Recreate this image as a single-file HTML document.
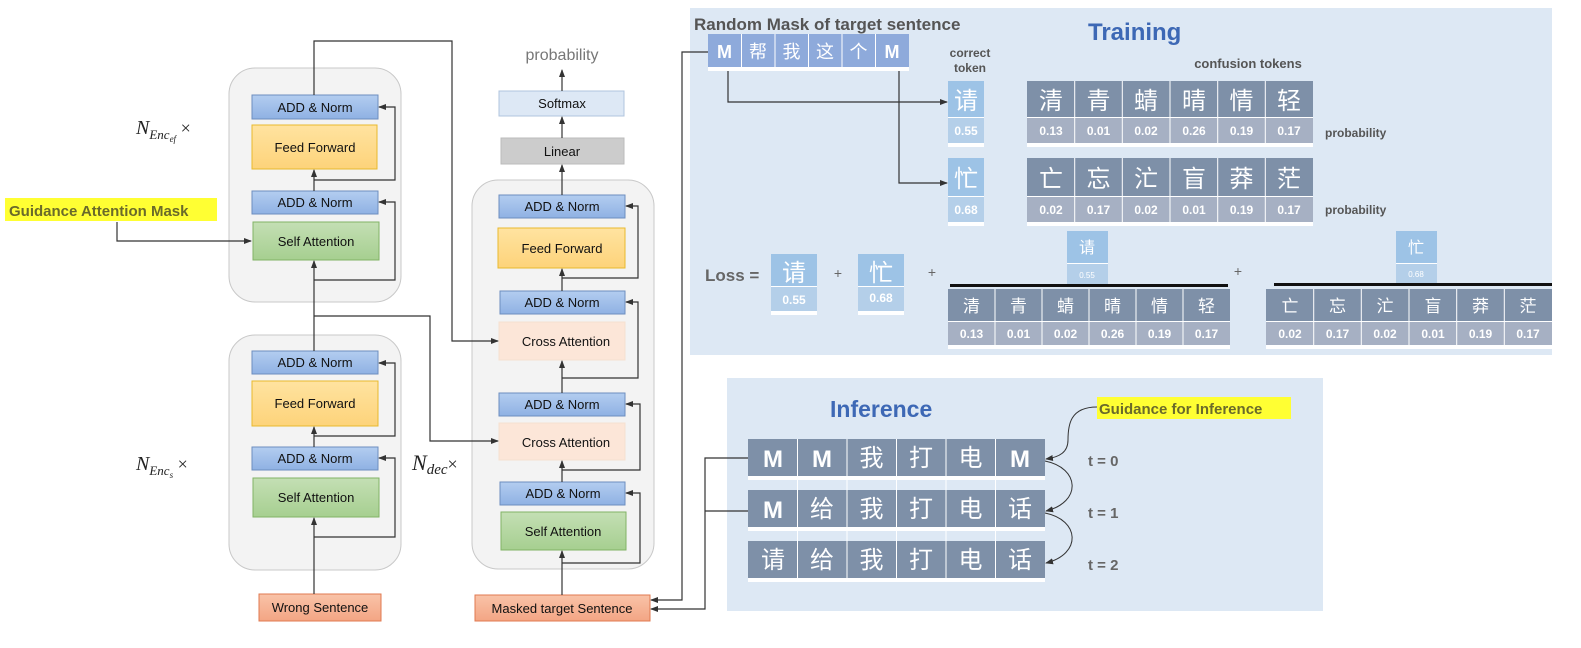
<!DOCTYPE html>
<html><head><meta charset="utf-8"><style>
body{margin:0;background:#fff;}
svg{display:block;font-family:"Liberation Sans","Noto Sans CJK SC",sans-serif;}
.bx{font-size:13px;fill:#111;text-anchor:middle;}
.cj{font-family:"Noto Sans CJK SC",sans-serif;fill:#fff;text-anchor:middle;}
.pw{font-size:12px;font-weight:bold;fill:#fff;text-anchor:middle;}
</style></head><body>
<svg width="1581" height="648" viewBox="0 0 1581 648">
<defs>
<marker id="a" markerWidth="8" markerHeight="8" refX="7" refY="4" orient="auto" markerUnits="userSpaceOnUse"><path d="M0,1 L8,4 L0,7 z" fill="#333"/></marker>
<linearGradient id="bl" x1="0" y1="0" x2="0" y2="1"><stop offset="0" stop-color="#b3cdf0"/><stop offset="1" stop-color="#8fb1e3"/></linearGradient>
<linearGradient id="yl" x1="0" y1="0" x2="0" y2="1"><stop offset="0" stop-color="#ffe3a0"/><stop offset="1" stop-color="#fdd37a"/></linearGradient>
<linearGradient id="gr" x1="0" y1="0" x2="0" y2="1"><stop offset="0" stop-color="#c4dfb4"/><stop offset="1" stop-color="#a6cf90"/></linearGradient>
<linearGradient id="or" x1="0" y1="0" x2="0" y2="1"><stop offset="0" stop-color="#f9c3a8"/><stop offset="1" stop-color="#f3a584"/></linearGradient>
</defs>

<rect x="690" y="8" width="862" height="347" fill="#dde8f4"/>
<rect x="727" y="378" width="596" height="233" fill="#dde8f4"/>

<rect x="229" y="68" width="172" height="234" rx="26" fill="#f3f3f3" stroke="#c8c8c8"/>
<rect x="229" y="335" width="172" height="235" rx="26" fill="#f3f3f3" stroke="#c8c8c8"/>
<rect x="472" y="180" width="182" height="389" rx="26" fill="#f3f3f3" stroke="#c8c8c8"/>

<g stroke-width="1">
<rect x="252" y="95" width="126" height="24" fill="url(#bl)" stroke="#6c8ebf"/>
<rect x="252" y="125" width="125" height="44" fill="url(#yl)" stroke="#e8b92d"/>
<rect x="252" y="191" width="126" height="23" fill="url(#bl)" stroke="#6c8ebf"/>
<rect x="253" y="222" width="126" height="38" fill="url(#gr)" stroke="#82b366"/>
<rect x="252" y="351" width="126" height="23" fill="url(#bl)" stroke="#6c8ebf"/>
<rect x="252" y="381" width="126" height="45" fill="url(#yl)" stroke="#e8b92d"/>
<rect x="252" y="447" width="126" height="23" fill="url(#bl)" stroke="#6c8ebf"/>
<rect x="253" y="478" width="126" height="39" fill="url(#gr)" stroke="#82b366"/>
<rect x="259" y="594" width="122" height="27" fill="url(#or)" stroke="#e07a50"/>
<rect x="499" y="91" width="125" height="25" fill="#dde8f5" stroke="#b0c4de"/>
<rect x="501" y="138" width="123" height="26" fill="#cccccc" stroke="#bbb"/>
<rect x="499" y="195" width="126" height="23" fill="url(#bl)" stroke="#6c8ebf"/>
<rect x="498" y="228" width="127" height="40" fill="url(#yl)" stroke="#e8b92d"/>
<rect x="500" y="291" width="125" height="23" fill="url(#bl)" stroke="#6c8ebf"/>
<rect x="499" y="322" width="126" height="38" fill="#fce6d8" stroke="#f5e0d0"/>
<rect x="499" y="393" width="126" height="23" fill="url(#bl)" stroke="#6c8ebf"/>
<rect x="499" y="423" width="126" height="37" fill="#fce6d8" stroke="#f5e0d0"/>
<rect x="500" y="482" width="125" height="23" fill="url(#bl)" stroke="#6c8ebf"/>
<rect x="501" y="512" width="125" height="38" fill="url(#gr)" stroke="#82b366"/>
<rect x="475" y="595" width="175" height="26" fill="url(#or)" stroke="#e07a50"/>
</g>

<g class="bx">
<text x="315" y="112">ADD &amp; Norm</text>
<text x="315" y="152">Feed Forward</text>
<text x="315" y="207">ADD &amp; Norm</text>
<text x="316" y="246">Self Attention</text>
<text x="315" y="367">ADD &amp; Norm</text>
<text x="315" y="408">Feed Forward</text>
<text x="315" y="463">ADD &amp; Norm</text>
<text x="316" y="502">Self Attention</text>
<text x="320" y="612">Wrong Sentence</text>
<text x="562" y="108">Softmax</text>
<text x="562" y="156">Linear</text>
<text x="562" y="211">ADD &amp; Norm</text>
<text x="562" y="253">Feed Forward</text>
<text x="562" y="307">ADD &amp; Norm</text>
<text x="566" y="346">Cross Attention</text>
<text x="562" y="409">ADD &amp; Norm</text>
<text x="566" y="447">Cross Attention</text>
<text x="563" y="498">ADD &amp; Norm</text>
<text x="563" y="536">Self Attention</text>
<text x="562" y="613">Masked target Sentence</text>
</g>
<text x="562" y="60" font-size="16" fill="#777" text-anchor="middle">probability</text>

<g font-family="Liberation Serif,serif" font-style="italic" fill="#222">
<text x="136" y="134" font-size="20">N<tspan font-size="13" dy="5">Enc</tspan><tspan font-size="9" dy="3">ef</tspan><tspan font-style="normal" font-size="18" dy="-8"> ×</tspan></text>
<text x="136" y="470" font-size="20">N<tspan font-size="13" dy="5">Enc</tspan><tspan font-size="9" dy="3">s</tspan><tspan font-style="normal" font-size="18" dy="-8"> ×</tspan></text>
<text x="412" y="470" font-size="22">N<tspan font-size="15" dy="4">dec</tspan><tspan font-style="normal" font-size="18" dy="-4">×</tspan></text>
</g>

<rect x="5" y="198" width="212" height="23" fill="#ffff33"/>
<text x="9" y="216" font-size="15" font-weight="bold" fill="#6a6a2a">Guidance Attention Mask</text>

<g fill="none" stroke="#333" stroke-width="1.2">
<path d="M117,222 V241 H251" marker-end="url(#a)"/>
<path d="M314,594 V518" marker-end="url(#a)"/>
<path d="M314,537 H395 V458 H379" marker-end="url(#a)"/>
<path d="M314,447 V427" marker-end="url(#a)"/>
<path d="M314,436 H395 V363 H379" marker-end="url(#a)"/>
<path d="M314,351 V261" marker-end="url(#a)"/>
<path d="M314,280 H395 V202 H379" marker-end="url(#a)"/>
<path d="M314,191 V170" marker-end="url(#a)"/>
<path d="M314,180 H395 V107 H379" marker-end="url(#a)"/>
<path d="M314,95 V41 H452 V341 H498" marker-end="url(#a)"/>
<path d="M314,316 H430 V441 H498" marker-end="url(#a)"/>
<path d="M562,595 V551" marker-end="url(#a)"/>
<path d="M562,563 H640 V493 H626" marker-end="url(#a)"/>
<path d="M562,482 V461" marker-end="url(#a)"/>
<path d="M562,470 H640 V404 H626" marker-end="url(#a)"/>
<path d="M562,393 V361" marker-end="url(#a)"/>
<path d="M562,378 H638 V302 H626" marker-end="url(#a)"/>
<path d="M562,291 V269" marker-end="url(#a)"/>
<path d="M562,278 H638 V206 H626" marker-end="url(#a)"/>
<path d="M562,195 V165" marker-end="url(#a)"/>
<path d="M562,138 V117" marker-end="url(#a)"/>
<path d="M562,91 V70" marker-end="url(#a)"/>
<path d="M708,52 H682 V600 H651" marker-end="url(#a)"/>
<path d="M748,458 H705 V609 H651" marker-end="url(#a)"/>
<path d="M748,511 H705"/>
<path d="M728,70 V102 H947" marker-end="url(#a)"/>
<path d="M899,70 V183 H947" marker-end="url(#a)"/>
<path d="M1097,407 C1070,407 1068,425 1068,440 C1068,452 1060,457 1046,459" stroke-width="1" marker-end="url(#a)"/>
<path d="M1045,461 C1080,468 1082,502 1046,511" stroke-width="1" marker-end="url(#a)"/>
<path d="M1045,513 C1080,520 1082,554 1046,563" stroke-width="1" marker-end="url(#a)"/>
</g>

<text x="694" y="30" font-size="17" font-weight="bold" fill="#555">Random Mask of target sentence</text>
<text x="1088" y="40" font-size="24" font-weight="bold" fill="#3d68b5">Training</text>
<rect x="708" y="34" width="201" height="37" fill="#fff"/>
<rect x="708" y="34" width="201" height="33" fill="#8eaadb"/>
<g stroke="#fff"><path d="M741.5,34V67M775,34V67M808.5,34V67M842,34V67M875.5,34V67"/></g>
<text x="724.5" y="58" font-size="18" font-weight="bold" fill="#fff" text-anchor="middle">M</text>
<text x="758" y="58" font-size="18" class="cj">帮</text>
<text x="791.5" y="58" font-size="18" class="cj">我</text>
<text x="825" y="58" font-size="18" class="cj">这</text>
<text x="858.5" y="58" font-size="18" class="cj">个</text>
<text x="892" y="58" font-size="18" font-weight="bold" fill="#fff" text-anchor="middle">M</text>
<text x="970" y="57" font-size="12" fill="#555" font-weight="bold" text-anchor="middle">correct</text>
<text x="970" y="72" font-size="12" fill="#555" font-weight="bold" text-anchor="middle">token</text>
<text x="1248" y="68" font-size="13" fill="#555" font-weight="bold" text-anchor="middle">confusion tokens</text>
<text x="1325" y="137" font-size="12" fill="#555" font-weight="bold">probability</text>
<text x="1325" y="214" font-size="12" fill="#555" font-weight="bold">probability</text>

<rect x="948" y="81" width="36" height="66" fill="#fff"/>
<rect x="948" y="81" width="36" height="36" fill="#9dc3e6"/><rect x="948" y="118" width="36" height="25" fill="#b4cfe9"/>
<text x="966" y="109" font-size="24" class="cj">请</text><text x="966" y="135" class="pw">0.55</text>
<rect x="948" y="158" width="36" height="68" fill="#fff"/>
<rect x="948" y="158" width="36" height="38" fill="#9dc3e6"/><rect x="948" y="197" width="36" height="25" fill="#b4cfe9"/>
<text x="966" y="187" font-size="24" class="cj">忙</text><text x="966" y="214" class="pw">0.68</text>

<rect x="1027" y="81" width="286" height="66" fill="#fff"/>
<rect x="1027" y="81" width="286" height="36" fill="#7e90a8"/><rect x="1027" y="118" width="286" height="25" fill="#a6b0c3"/>
<g stroke="#fff"><path d="M1074.7,81V143M1122.3,81V143M1170,81V143M1217.7,81V143M1265.3,81V143"/></g>
<g font-size="24"><text x="1051" y="109" class="cj">清</text><text x="1098.5" y="109" class="cj">青</text><text x="1146" y="109" class="cj">蜻</text><text x="1194" y="109" class="cj">晴</text><text x="1241.5" y="109" class="cj">情</text><text x="1289" y="109" class="cj">轻</text></g>
<g class="pw"><text x="1051" y="135">0.13</text><text x="1098.5" y="135">0.01</text><text x="1146" y="135">0.02</text><text x="1194" y="135">0.26</text><text x="1241.5" y="135">0.19</text><text x="1289" y="135">0.17</text></g>
<rect x="1027" y="158" width="286" height="68" fill="#fff"/>
<rect x="1027" y="158" width="286" height="38" fill="#7e90a8"/><rect x="1027" y="197" width="286" height="25" fill="#a6b0c3"/>
<g stroke="#fff"><path d="M1074.7,158V222M1122.3,158V222M1170,158V222M1217.7,158V222M1265.3,158V222"/></g>
<g font-size="24"><text x="1051" y="187" class="cj">亡</text><text x="1098.5" y="187" class="cj">忘</text><text x="1146" y="187" class="cj">汒</text><text x="1194" y="187" class="cj">盲</text><text x="1241.5" y="187" class="cj">莽</text><text x="1289" y="187" class="cj">茫</text></g>
<g class="pw"><text x="1051" y="214">0.02</text><text x="1098.5" y="214">0.17</text><text x="1146" y="214">0.02</text><text x="1194" y="214">0.01</text><text x="1241.5" y="214">0.19</text><text x="1289" y="214">0.17</text></g>

<text x="705" y="281" font-size="17" font-weight="bold" fill="#666">Loss =</text>
<rect x="771" y="254" width="46" height="61" fill="#fff"/>
<rect x="771" y="254" width="46" height="32" fill="#9dc3e6"/><rect x="771" y="287" width="46" height="24" fill="#b4cfe9"/>
<text x="794" y="281" font-size="24" class="cj">请</text><text x="794" y="304" class="pw">0.55</text>
<text x="838" y="278" font-size="14" fill="#666" text-anchor="middle">+</text>
<rect x="858" y="254" width="46" height="61" fill="#fff"/>
<rect x="858" y="254" width="46" height="32" fill="#9dc3e6"/><rect x="858" y="287" width="46" height="24" fill="#b4cfe9"/>
<text x="881" y="281" font-size="24" class="cj">忙</text><text x="881" y="302" class="pw">0.68</text>
<text x="932" y="277" font-size="14" fill="#666" text-anchor="middle">+</text>
<text x="1238" y="276" font-size="14" fill="#666" text-anchor="middle">+</text>

<rect x="1067" y="231" width="41" height="55" fill="#fff"/>
<rect x="1067" y="231" width="41" height="32" fill="#9dc3e6"/><rect x="1067" y="264" width="41" height="20" fill="#b4cfe9"/>
<text x="1087" y="253" font-size="16" class="cj">请</text><text x="1087" y="278" font-size="8" fill="#fff" text-anchor="middle">0.55</text>
<rect x="1396" y="231" width="41" height="55" fill="#fff"/>
<rect x="1396" y="231" width="41" height="32" fill="#9dc3e6"/><rect x="1396" y="264" width="41" height="20" fill="#b4cfe9"/>
<text x="1416" y="253" font-size="16" class="cj">忙</text><text x="1416" y="277" font-size="8" fill="#fff" text-anchor="middle">0.68</text>
<rect x="950" y="284" width="278" height="3" fill="#111"/>
<rect x="1274" y="283" width="278" height="3" fill="#111"/>

<rect x="948" y="289" width="282" height="60" fill="#fff"/>
<rect x="948" y="289" width="282" height="32" fill="#7e90a8"/><rect x="948" y="322" width="282" height="23" fill="#a6b0c3"/>
<g stroke="#fff"><path d="M995,289V345M1042,289V345M1089,289V345M1136,289V345M1183,289V345"/></g>
<g font-size="17"><text x="971.5" y="312" class="cj">清</text><text x="1018.5" y="312" class="cj">青</text><text x="1065.5" y="312" class="cj">蜻</text><text x="1112.5" y="312" class="cj">晴</text><text x="1159.5" y="312" class="cj">情</text><text x="1206.5" y="312" class="cj">轻</text></g>
<g class="pw"><text x="971.5" y="338">0.13</text><text x="1018.5" y="338">0.01</text><text x="1065.5" y="338">0.02</text><text x="1112.5" y="338">0.26</text><text x="1159.5" y="338">0.19</text><text x="1206.5" y="338">0.17</text></g>

<rect x="1266" y="289" width="286" height="60" fill="#fff"/>
<rect x="1266" y="289" width="286" height="32" fill="#7e90a8"/><rect x="1266" y="322" width="286" height="23" fill="#a6b0c3"/>
<g stroke="#fff"><path d="M1313.7,289V345M1361.3,289V345M1409,289V345M1456.7,289V345M1504.3,289V345"/></g>
<g font-size="17"><text x="1290" y="312" class="cj">亡</text><text x="1337.5" y="312" class="cj">忘</text><text x="1385" y="312" class="cj">汒</text><text x="1433" y="312" class="cj">盲</text><text x="1480.5" y="312" class="cj">莽</text><text x="1528" y="312" class="cj">茫</text></g>
<g class="pw"><text x="1290" y="338">0.02</text><text x="1337.5" y="338">0.17</text><text x="1385" y="338">0.02</text><text x="1433" y="338">0.01</text><text x="1480.5" y="338">0.19</text><text x="1528" y="338">0.17</text></g>

<text x="830" y="417" font-size="23" font-weight="bold" fill="#3d68b5">Inference</text>
<rect x="1097" y="397" width="194" height="22" fill="#ffff33"/>
<text x="1099" y="414" font-size="15" font-weight="bold" fill="#6a6a2a">Guidance for Inference</text>
<g font-size="15" font-weight="bold" fill="#666">
<text x="1088" y="466">t = 0</text><text x="1088" y="518">t = 1</text><text x="1088" y="570">t = 2</text></g>

<rect x="748" y="439" width="297" height="41" fill="#fff"/>
<rect x="748" y="439" width="297" height="37" fill="#7e90a8"/>
<rect x="748" y="490" width="297" height="41" fill="#fff"/>
<rect x="748" y="490" width="297" height="37" fill="#7e90a8"/>
<rect x="748" y="541" width="297" height="41" fill="#fff"/>
<rect x="748" y="541" width="297" height="37" fill="#7e90a8"/>
<g stroke="#fff"><path d="M797.5,439V580M847,439V580M896.5,439V580M946,439V580M995.5,439V580"/></g>
<g font-size="24" font-weight="bold" fill="#fff" text-anchor="middle">
<text x="773" y="467">M</text><text x="822" y="467">M</text><text x="1020" y="467">M</text><text x="773" y="518">M</text></g>
<g font-size="24">
<text x="871.5" y="466" class="cj">我</text><text x="921" y="466" class="cj">打</text><text x="970.5" y="466" class="cj">电</text>
<text x="822" y="517" class="cj">给</text><text x="871.5" y="517" class="cj">我</text><text x="921" y="517" class="cj">打</text><text x="970.5" y="517" class="cj">电</text><text x="1020" y="517" class="cj">话</text>
<text x="773" y="568" class="cj">请</text><text x="822" y="568" class="cj">给</text><text x="871.5" y="568" class="cj">我</text><text x="921" y="568" class="cj">打</text><text x="970.5" y="568" class="cj">电</text><text x="1020" y="568" class="cj">话</text>
</g>
</svg>
</body></html>
